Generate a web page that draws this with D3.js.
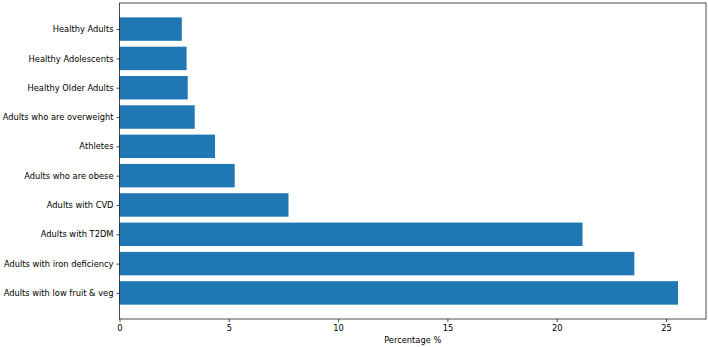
<!DOCTYPE html>
<html>
<head>
<meta charset="utf-8">
<script src="https://cdn.jsdelivr.net/npm/d3@7"></script>
<style>
  body { margin: 0; background: #fff; }
  text { font-family: "DejaVu Sans", sans-serif; fill: #000; }
</style>
</head>
<body>
<div id="chart"></div>
<script>
// Data, bottom to top as drawn
const categories = [
    "Adults with low fruit & veg",
    "Adults with iron deficiency",
    "Adults with T2DM",
    "Adults with CVD",
    "Adults who are obese",
    "Athletes",
    "Adults who are overweight",
    "Healthy Older Adults",
    "Healthy Adolescents",
    "Healthy Adults"
];
const percentages = [25.55, 23.55, 21.18, 7.73, 5.27, 4.37, 3.44, 3.12, 3.07, 2.85];
const xTicks = [0, 5, 10, 15, 20, 25];
const xLabel = "Percentage %";

const ctx = {
    w: 708,
    h: 347,
    left: 119.5,
    right: 706,
    top: 3,
    bottom: 319,
    fontSize: 8.3,
    tickLen: 3,
    barColor: "#1f77b4"
};

function createViz() {
    const svg = d3.select("#chart").append("svg")
        .attr("width", ctx.w)
        .attr("height", ctx.h);

    const xMax = d3.max(percentages) * 1.05;
    const x = d3.scaleLinear()
        .domain([0, xMax])
        .range([ctx.left, ctx.right]);

    // matplotlib-like margins around bars of height 0.8
    const span = (categories.length - 1) + 0.8;
    const pad = span * 0.05;
    const y = d3.scaleLinear()
        .domain([-0.4 - pad, categories.length - 1 + 0.4 + pad])
        .range([ctx.bottom, ctx.top]);

    // bars
    svg.append("g")
        .selectAll("rect")
        .data(percentages)
        .join("rect")
        .attr("x", x(0))
        .attr("y", (d, i) => y(i + 0.4))
        .attr("width", d => x(d) - x(0))
        .attr("height", (d, i) => y(i - 0.4) - y(i + 0.4))
        .attr("fill", ctx.barColor);

    // frame
    svg.append("rect")
        .attr("x", ctx.left)
        .attr("y", ctx.top)
        .attr("width", ctx.right - ctx.left)
        .attr("height", ctx.bottom - ctx.top)
        .attr("fill", "none")
        .attr("stroke", "#000")
        .attr("stroke-width", 0.7);

    // x axis
    const xAxis = d3.axisBottom(x)
        .tickValues(xTicks)
        .tickFormat(d3.format("d"))
        .tickSize(ctx.tickLen)
        .tickPadding(3);

    const gx = svg.append("g")
        .attr("transform", `translate(0,${ctx.bottom})`)
        .call(xAxis);
    gx.select(".domain").remove();
    gx.selectAll(".tick line").attr("stroke", "#000").attr("stroke-width", 0.7);
    gx.selectAll(".tick text")
        .attr("font-size", ctx.fontSize)
        .attr("font-family", "DejaVu Sans");

    // y axis
    const yAxis = d3.axisLeft(y)
        .tickValues(d3.range(categories.length))
        .tickFormat(i => categories[i])
        .tickSize(ctx.tickLen)
        .tickPadding(3);

    const gy = svg.append("g")
        .attr("transform", `translate(${ctx.left},0)`)
        .call(yAxis);
    gy.select(".domain").remove();
    gy.selectAll(".tick line").attr("stroke", "#000").attr("stroke-width", 0.7);
    gy.selectAll(".tick text")
        .attr("font-size", ctx.fontSize)
        .attr("font-family", "DejaVu Sans");

    // x label
    svg.append("text")
        .attr("x", (ctx.left + ctx.right) / 2)
        .attr("y", 343)
        .attr("text-anchor", "middle")
        .attr("font-size", ctx.fontSize)
        .text(xLabel);
}

document.addEventListener("DOMContentLoaded", function () {
    createViz();
});
</script>
</body>
</html>
